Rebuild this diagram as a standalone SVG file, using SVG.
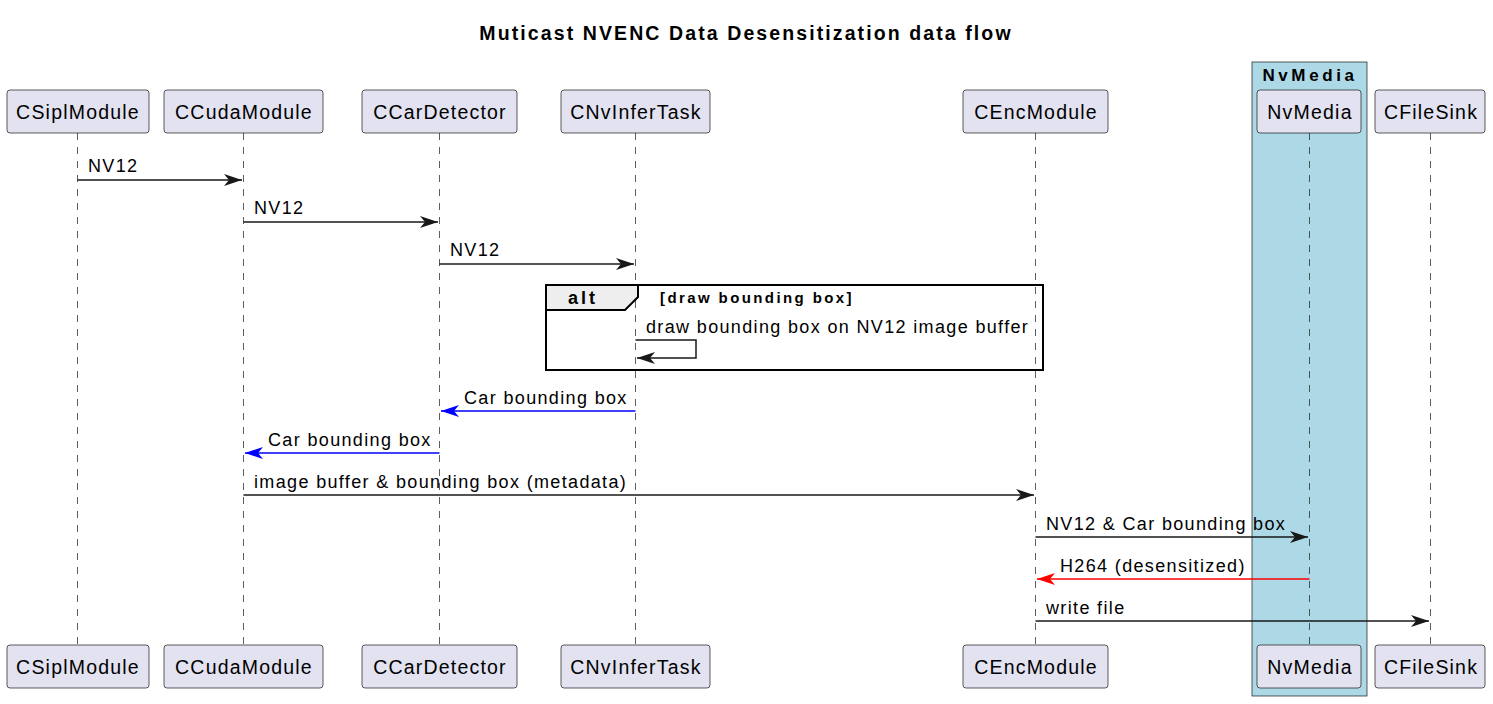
<svg xmlns="http://www.w3.org/2000/svg" width="1493" height="704" viewBox="0 0 1493 704">
<style>
text{font-family:"Liberation Sans",Arial,sans-serif;fill:#000}
.title{font-size:19.5px;font-weight:bold;letter-spacing:2.1px}
.p rect{fill:#E2E2F0;stroke:#181818;stroke-width:0.7}
.p text{font-size:19.5px;letter-spacing:1.2px}
.life{stroke:#181818;stroke-width:0.7;stroke-dasharray:7,7;fill:none}
.msg{font-size:18px;letter-spacing:1.35px}
.ln{stroke:#181818;stroke-width:1.5;fill:none}
.blue{stroke:#0000FF}
.red{stroke:#FF0000}
</style>
<defs>
<marker id="ah" viewBox="0 0 19 12" refX="18" refY="6" markerWidth="19" markerHeight="12" markerUnits="userSpaceOnUse" orient="auto">
<path d="M0,0 L18,6 L0,12 L5,6 Z" fill="#181818"/>
</marker>
<marker id="ahb" viewBox="0 0 19 12" refX="18" refY="6" markerWidth="19" markerHeight="12" markerUnits="userSpaceOnUse" orient="auto">
<path d="M0,0 L18,6 L0,12 L5,6 Z" fill="#0000FF"/>
</marker>
<marker id="ahr" viewBox="0 0 19 12" refX="18" refY="6" markerWidth="19" markerHeight="12" markerUnits="userSpaceOnUse" orient="auto">
<path d="M0,0 L18,6 L0,12 L5,6 Z" fill="#FF0000"/>
</marker>
</defs>
<rect width="1493" height="704" fill="#FFFFFF"/>
<text class="title" x="746" y="40" text-anchor="middle">Muticast NVENC Data Desensitization data flow</text>

<g id="box-NvMedia">
<rect x="1252" y="62" width="115" height="634" fill="#ADD8E6" stroke="#181818" stroke-width="0.7"/>
<text x="1310" y="81" text-anchor="middle" style="font-size:17px;font-weight:bold;letter-spacing:3.6px">NvMedia</text>
</g>

<g id="lifelines">
<line class="life" x1="77.5" y1="133" x2="77.5" y2="645"/>
<line class="life" x1="243.5" y1="133" x2="243.5" y2="645"/>
<line class="life" x1="439.5" y1="133" x2="439.5" y2="645"/>
<line class="life" x1="635.5" y1="133" x2="635.5" y2="645"/>
<line class="life" x1="1035.5" y1="133" x2="1035.5" y2="645"/>
<line class="life" x1="1309.5" y1="133" x2="1309.5" y2="645"/>
<line class="life" x1="1430.5" y1="133" x2="1430.5" y2="645"/>
</g>

<g id="p-CSiplModule" class="p">
<rect x="7" y="90" width="142" height="43" rx="3"/><text x="78" y="119" text-anchor="middle">CSiplModule</text>
<rect x="7" y="645" width="142" height="43" rx="3"/><text x="78" y="674" text-anchor="middle">CSiplModule</text>
</g>
<g id="p-CCudaModule" class="p">
<rect x="164" y="90" width="159" height="43" rx="3"/><text x="244" y="119" text-anchor="middle">CCudaModule</text>
<rect x="164" y="645" width="159" height="43" rx="3"/><text x="244" y="674" text-anchor="middle">CCudaModule</text>
</g>
<g id="p-CCarDetector" class="p">
<rect x="362" y="90" width="155" height="43" rx="3"/><text x="440" y="119" text-anchor="middle">CCarDetector</text>
<rect x="362" y="645" width="155" height="43" rx="3"/><text x="440" y="674" text-anchor="middle">CCarDetector</text>
</g>
<g id="p-CNvInferTask" class="p">
<rect x="561" y="90" width="149" height="43" rx="3"/><text x="636" y="119" text-anchor="middle">CNvInferTask</text>
<rect x="561" y="645" width="149" height="43" rx="3"/><text x="636" y="674" text-anchor="middle">CNvInferTask</text>
</g>
<g id="p-CEncModule" class="p">
<rect x="963" y="90" width="145" height="43" rx="3"/><text x="1036" y="119" text-anchor="middle">CEncModule</text>
<rect x="963" y="645" width="145" height="43" rx="3"/><text x="1036" y="674" text-anchor="middle">CEncModule</text>
</g>
<g id="p-NvMedia" class="p">
<rect x="1257" y="90" width="104" height="43" rx="3"/><text x="1310" y="119" text-anchor="middle">NvMedia</text>
<rect x="1257" y="645" width="104" height="43" rx="3"/><text x="1310" y="674" text-anchor="middle">NvMedia</text>
</g>
<g id="p-CFileSink" class="p">
<rect x="1375" y="90" width="110" height="43" rx="3"/><text x="1431" y="119" text-anchor="middle">CFileSink</text>
<rect x="1375" y="645" width="110" height="43" rx="3"/><text x="1431" y="674" text-anchor="middle">CFileSink</text>
</g>

<g id="alt-fragment">
<rect x="546" y="285" width="497" height="85" fill="none" stroke="#000" stroke-width="2"/>
<path d="M546,285 L638,285 L638,297 L625,310 L546,310 Z" fill="#EEEEEE" stroke="#000" stroke-width="2"/>
<text x="568" y="304" style="font-size:18px;font-weight:bold;letter-spacing:3px">alt</text>
<text x="660" y="303" style="font-size:15px;font-weight:bold;letter-spacing:2.4px">[draw bounding box]</text>
</g>

<g id="connectors">
<line class="ln" x1="77.5" y1="180" x2="242" y2="180" marker-end="url(#ah)"/>
<text class="msg" x="88" y="172">NV12</text>
<line class="ln" x1="243.5" y1="222" x2="438" y2="222" marker-end="url(#ah)"/>
<text class="msg" x="254" y="214">NV12</text>
<line class="ln" x1="439.5" y1="264" x2="634" y2="264" marker-end="url(#ah)"/>
<text class="msg" x="450" y="256">NV12</text>
<path class="ln" d="M635.5,340 L696,340 L696,358 L637,358" marker-end="url(#ah)"/>
<text class="msg" x="646" y="333">draw bounding box on NV12 image buffer</text>
<line class="ln blue" x1="635.5" y1="411" x2="441" y2="411" marker-end="url(#ahb)"/>
<text class="msg" x="464" y="404">Car bounding box</text>
<line class="ln blue" x1="439.5" y1="453" x2="245" y2="453" marker-end="url(#ahb)"/>
<text class="msg" x="268" y="446">Car bounding box</text>
<line class="ln" x1="243.5" y1="495" x2="1034" y2="495" marker-end="url(#ah)"/>
<text class="msg" x="254" y="488">image buffer &amp; bounding box (metadata)</text>
<line class="ln" x1="1035.5" y1="537" x2="1308" y2="537" marker-end="url(#ah)"/>
<text class="msg" x="1046" y="530">NV12 &amp; Car bounding box</text>
<line class="ln red" x1="1309.5" y1="579" x2="1037" y2="579" marker-end="url(#ahr)"/>
<text class="msg" x="1060" y="572">H264 (desensitized)</text>
<line class="ln" x1="1035.5" y1="621" x2="1429" y2="621" marker-end="url(#ah)"/>
<text class="msg" x="1046" y="614">write file</text>
</g>
</svg>
